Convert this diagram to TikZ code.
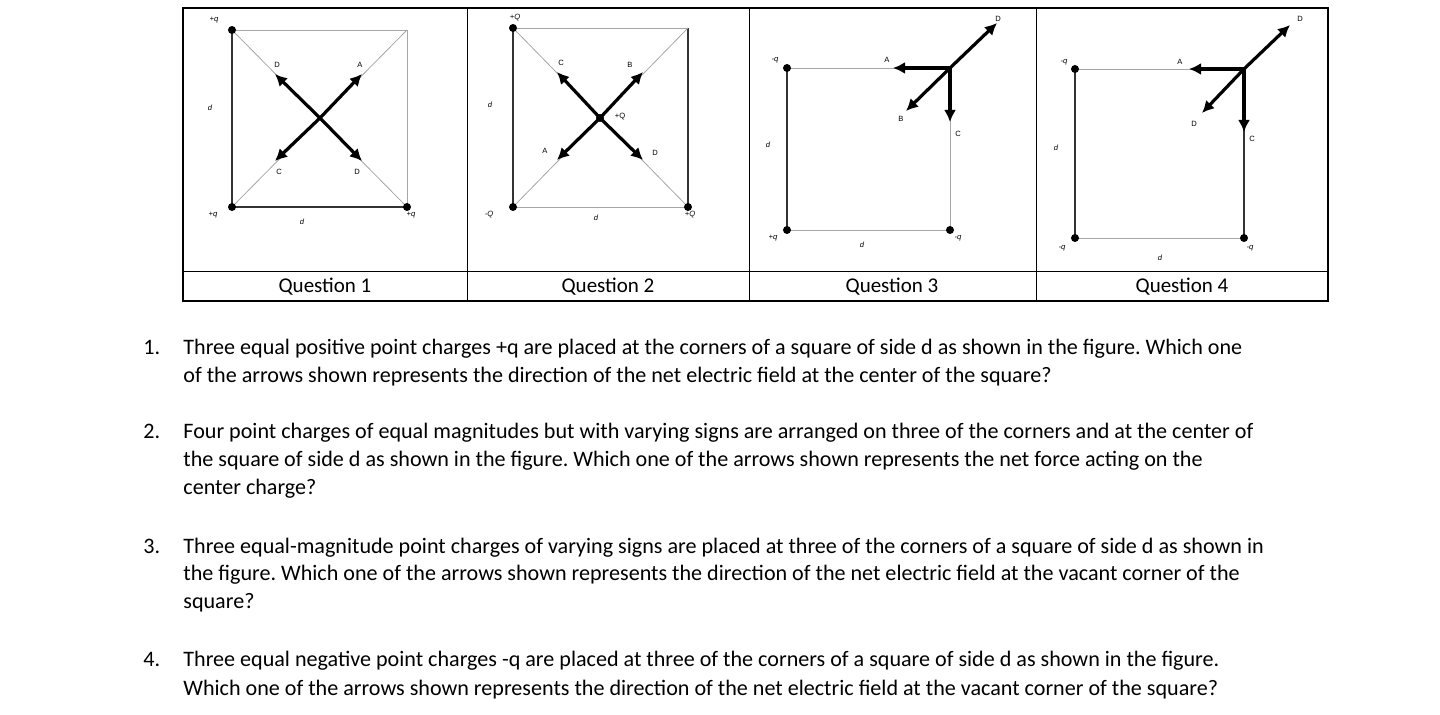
\documentclass[tikz,border=0pt]{standalone}
\usepackage{fontspec}
\setmainfont{Carlito}
\newfontfamily\lab{Liberation Sans}
\usetikzlibrary{arrows.meta}
\begin{document}
\frenchspacing
\begin{tikzpicture}[x=0.5pt,y=-0.5pt,
  thinl/.style={draw=gray!70,line width=0.4pt},
  side/.style={draw=black!80,line width=0.6pt},
  arr/.style={line width=1.6pt,-{Latex[length=6pt,width=6pt]}},
  dot/.style={circle,fill=black,inner sep=0pt,minimum size=4pt},
  sl/.style={font=\lab\fontsize{3.8}{4}\selectfont,inner sep=0pt},
  qcap/.style={font=\fontsize{10.5}{12}\selectfont},
  para/.style={font=\fontsize{11.05}{14}\selectfont,anchor=north west,align=left,inner sep=0pt},
  num/.style={font=\fontsize{11.05}{14}\selectfont,anchor=north west,inner sep=0pt}]
\useasboundingbox (0,0) rectangle (1440,715);
% table
\draw[line width=0.6pt] (183,8) rectangle (1328,301);
\draw[line width=0.5pt] (183,272) -- (1328,272);
\foreach \x in {467,749,1036} \draw[line width=0.5pt] (\x,8) -- (\x,301);
\node[qcap] (c1) at (325,287) {Question 1};
\node[qcap] (c2) at (608,287) {Question 2};
\node[qcap] (c3) at (892,287) {Question 3};
\node[qcap] (c4) at (1182,287) {Question 4};
% Q1
\coordinate (a1) at (232,30); \coordinate (a2) at (407,30);
\coordinate (a3) at (232,207); \coordinate (a4) at (407,207);
\coordinate (ac) at (320,118);
\draw[thinl] (a1) -- (a2) -- (a4); \draw[side] (a1) -- (a3) -- (a4);
\draw[thinl] (a1) -- (a4) (a2) -- (a3);
\draw[arr] (ac) -- (275,74); \draw[arr] (ac) -- (362,74);
\draw[arr] (ac) -- (275,161); \draw[arr] (ac) -- (362,161);
\node[dot] (q1a) at (a1) {}; \node[dot] (q1b) at (a3) {}; \node[dot] (q1c) at (a4) {};
\node[sl] at (214,20) {\itshape +q}; \node[sl] at (210,108) {\itshape d};
\node[sl] at (213,215) {\itshape +q}; \node[sl] at (302,222) {\itshape d};
\node[sl] at (411,215) {\itshape +q};
\node[sl] at (277,65) {D}; \node[sl] at (360,65) {A};
\node[sl] at (279,172) {C}; \node[sl] at (357,172) {D};
% Q2
\coordinate (b1) at (513,28); \coordinate (b2) at (688,28);
\coordinate (b3) at (513,207); \coordinate (b4) at (688,207);
\coordinate (bc) at (600,118);
\draw[thinl] (b1) -- (b2) (b3) -- (b4); \draw[side] (b1) -- (b3) (b2) -- (b4);
\draw[thinl] (b1) -- (b4) (b2) -- (b3);
\draw[arr] (bc) -- (557,72); \draw[arr] (bc) -- (643,72);
\draw[arr] (bc) -- (557,160); \draw[arr] (bc) -- (643,160);
\node[dot] at (b1) {}; \node[dot] at (b3) {}; \node[dot] at (b4) {}; \node[dot] (q2c) at (bc) {};
\node[sl] at (515,18) {\itshape +Q}; \node[sl] at (490,105) {\itshape d};
\node[sl] at (489,215) {\itshape -Q}; \node[sl] at (596,218) {\itshape d};
\node[sl] at (690,215) {\itshape +Q}; \node[sl] at (620,117) {+Q};
\node[sl] at (561,63) {C}; \node[sl] at (630,65) {B};
\node[sl] at (545,151) {A}; \node[sl] at (655,153) {D};
% Q3
\coordinate (d1) at (787,68); \coordinate (d2) at (950,68);
\coordinate (d3) at (787,230); \coordinate (d4) at (950,230);
\draw[thinl] (d1) -- (d2) -- (d4) -- (d3); \draw[side] (d1) -- (d3);
\draw[arr] (d2) -- (893,68); \draw[arr] (d2) -- (906,111);
\draw[arr] (d2) -- (950,122); \draw[arr] (d2) -- (997,23);
\node[dot] at (d1) {}; \node[dot] at (d3) {}; \node[dot] at (d4) {};
\node[sl] at (775,60) {\itshape -q}; \node[sl] at (887,60) {A};
\node[sl] at (901,119) {B}; \node[sl] at (958,134) {C}; \node[sl] at (998,19) {D};
\node[sl] at (768,145) {\itshape d}; \node[sl] at (773,238) {\itshape +q};
\node[sl] at (862,245) {\itshape d}; \node[sl] at (958,238) {\itshape -q};
% Q4
\coordinate (e1) at (1075,69); \coordinate (e2) at (1244,69);
\coordinate (e3) at (1075,238); \coordinate (e4) at (1244,238);
\draw[thinl] (e1) -- (e2) (e4) -- (e3); \draw[side] (e1) -- (e3) (e2) -- (e4);
\draw[arr] (e2) -- (1189,69); \draw[arr] (e2) -- (1202,113);
\draw[arr] (e2) -- (1244,132); \draw[arr] (e2) -- (1290,25);
\node[dot] at (e1) {}; \node[dot] at (e3) {}; \node[dot] at (e4) {};
\node[sl] at (1064,62) {\itshape -q}; \node[sl] at (1180,62) {A};
\node[sl] at (1194,124) {D}; \node[sl] at (1252,139) {C}; \node[sl] at (1300,19) {D};
\node[sl] at (1056,148) {\itshape d}; \node[sl] at (1062,248) {\itshape -q};
\node[sl] at (1160,258) {\itshape d}; \node[sl] at (1250,248) {\itshape -q};
% questions
\node[num] (n1) at (143,335) {\strut 1.};
\node[para] (p1) at (183,335) {\strut Three equal positive point charges +q are placed at the corners of a square of side d as shown in the figure. Which one\\of the arrows shown represents the direction of the net electric field at the center of the square?};
\node[num] (n2) at (143,419) {\strut 2.};
\node[para] (p2) at (183,419) {\strut Four point charges of equal magnitudes but with varying signs are arranged on three of the corners and at the center of\\the square of side d as shown in the figure. Which one of the arrows shown represents the net force acting on the\\center charge?};
\node[num] (n3) at (143,533) {\strut 3.};
\node[para] (p3) at (183,533) {\strut Three equal-magnitude point charges of varying signs are placed at three of the corners of a square of side d as shown in\\the figure. Which one of the arrows shown represents the direction of the net electric field at the vacant corner of the\\square?};
\node[num] (n4) at (143,647) {\strut 4.};
\node[para] (p4) at (183,647) {\strut Three equal negative point charges -q are placed at three of the corners of a square of side d as shown in the figure.\\Which one of the arrows shown represents the direction of the net electric field at the vacant corner of the square?};
\end{tikzpicture}
\end{document}
